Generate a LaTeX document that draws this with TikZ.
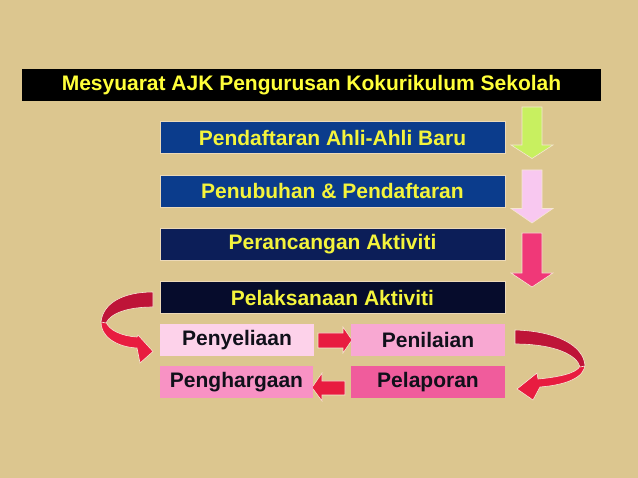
\documentclass[tikz,border=0pt]{standalone}
\usepackage{fontspec}
\setmainfont{Liberation Sans}
\definecolor{bg}{HTML}{DCC68F}
\definecolor{ylw}{HTML}{FFFF3A}
\definecolor{ylwb}{HTML}{F4F43C}
\definecolor{blueA}{HTML}{0B3C8C}
\definecolor{blueB}{HTML}{0C1E58}
\definecolor{blueC}{HTML}{060C2C}
\definecolor{pinkA}{HTML}{FDD2EA}
\definecolor{pinkB}{HTML}{F8A8D2}
\definecolor{pinkC}{HTML}{F892C4}
\definecolor{pinkD}{HTML}{F05C9C}
\definecolor{txtdark}{HTML}{10101A}
\definecolor{redA}{HTML}{E81C40}
\definecolor{redB}{HTML}{BE1438}
\definecolor{arrG}{HTML}{C8F060}
\definecolor{arrP}{HTML}{F8C8F0}
\definecolor{arrM}{HTML}{F03878}
\definecolor{edge}{HTML}{F6E6D4}
\begin{document}
\begin{tikzpicture}[x=1pt,y=-1pt,
  lbl/.style={font=\bfseries\fontsize{21}{21}\selectfont, inner sep=0pt, minimum height=32pt},
  hdr/.style={lbl, fill=black, text=ylw, minimum width=579pt},
  darkbox/.style={lbl, text=ylwb, minimum width=345pt, draw=edge!60!bg, line width=0.6pt},
  pinkbox/.style={lbl, text=txtdark, minimum width=154pt},
  blockarrow/.style={draw=edge, line width=0.6pt},
]
\fill[bg] (0,0) rectangle (638,478);
\useasboundingbox (0,0) rectangle (638,478);

% curved arrow left
\filldraw[blockarrow, fill=redA] (101,321) .. controls (100,336) and (116,347) .. (137,348)
  -- (140,363) -- (153,351.5) -- (138,335) -- (137,337)
  .. controls (121,336) and (109,330) .. (106,322) -- cycle;
\filldraw[blockarrow, fill=redB] (153,292) .. controls (123,292) and (103,303) .. (101,322)
  -- (106,323) .. controls (111,313) and (128,307) .. (153,307) -- cycle;

% curved arrow right
\filldraw[blockarrow, fill=redA] (585,364) .. controls (585,378) and (565,385) .. (540,387)
  -- (533,400) -- (517,389) -- (537,373) -- (538,379)
  .. controls (560,377) and (577,373) .. (580,366) -- cycle;
\filldraw[blockarrow, fill=redB] (515,330) .. controls (555,331) and (584,345) .. (585,366)
  -- (580,367) .. controls (577,355) and (555,344) .. (515,344) -- cycle;

% small arrows
\filldraw[blockarrow, fill=redA] (318,333) -- (343,333) -- (343,327) -- (352,340)
  -- (343,353) -- (343,348) -- (318,348) -- cycle;
\filldraw[blockarrow, fill=redA] (345,381) -- (322,381) -- (322,373) -- (312,387.5)
  -- (322,401) -- (322,395) -- (345,395) -- cycle;

% boxes
\node[hdr] (title) at (311.5,85) {Mesyuarat AJK Pengurusan Kokurikulum Sekolah};
\node[darkbox, fill=blueA] (b1) at (332.5,137.5) {Pendaftaran Ahli-Ahli Baru};
\node[darkbox, fill=blueA] (b2) at (332.5,191) {Penubuhan \& Pendaftaran};
\node[darkbox, fill=blueB] (b3) at (332.5,244) {Perancangan Aktiviti};
\node[darkbox, fill=blueC] (b4) at (332.5,297.5) {Pelaksanaan Aktiviti};
\node[pinkbox, fill=pinkA] (s1) at (237,340) {Penyeliaan};
\node[pinkbox, fill=pinkB] (s2) at (428,340) {Penilaian};
\node[pinkbox, fill=pinkC, minimum width=153pt] (s4) at (236.5,382.5) {Penghargaan};
\node[pinkbox, fill=pinkD] (s3) at (428,382.5) {Pelaporan};

% down arrows
\filldraw[blockarrow, fill=arrG] (522,107) -- (542,107) -- (542,145) -- (553,145)
  -- (532,158.5) -- (511,145) -- (522,145) -- cycle;
\filldraw[blockarrow, fill=arrP] (522,170) -- (542,170) -- (542,208.5) -- (553,208.5)
  -- (532,223) -- (511,208.5) -- (522,208.5) -- cycle;
\filldraw[blockarrow, fill=arrM] (522,233) -- (542,233) -- (542,273) -- (553,273)
  -- (532,287) -- (511,273) -- (522,273) -- cycle;
\end{tikzpicture}
\end{document}
